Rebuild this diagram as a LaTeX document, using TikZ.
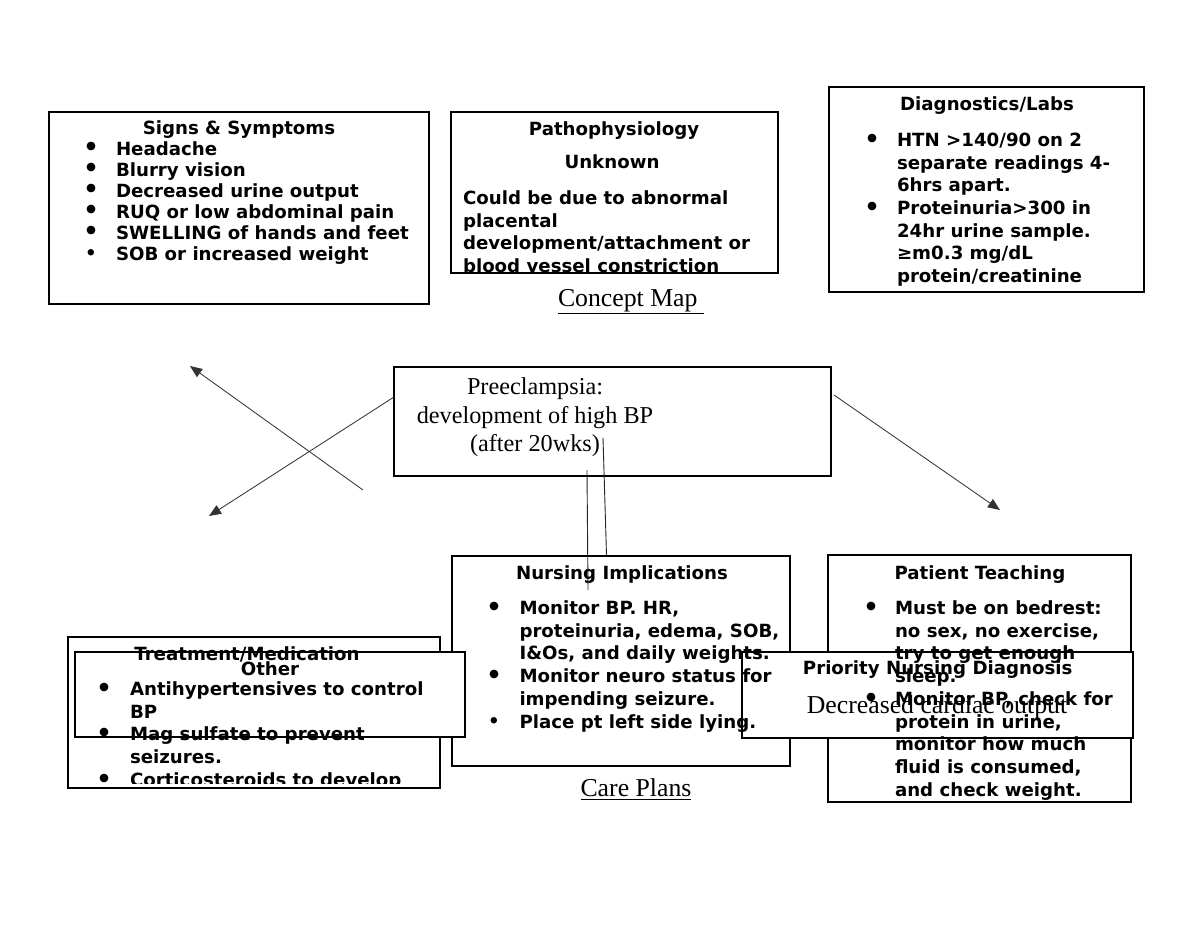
\documentclass[tikz,border=0pt]{standalone}
\usepackage{fontspec}
\setmainfont{Liberation Serif}
\setsansfont{DejaVu Sans}
\usetikzlibrary{arrows.meta,fit}
\tikzstyle{box}=[draw=black,line width=1.3pt]
\tikzstyle{cover}=[fill=white]
\tikzstyle{link}=[draw=black!85,line width=0.6pt]
\tikzstyle{arrow}=[-{Triangle[length=8pt,width=6.5pt]},draw=black!80,line width=0.55pt]
\def\labfont{\sffamily\bfseries\fontsize{12}{14}\selectfont}

\begin{document}
\begin{tikzpicture}[x=0.66pt,y=-0.66pt]
    \tikzstyle{every node}=[inner sep=0pt,outer sep=0pt]
    \tikzstyle{head}=[anchor=base,font=\labfont]
    \tikzstyle{item}=[anchor=base west,font=\labfont]
    \tikzstyle{dot}=[anchor=center,yshift=3.8pt,font=\sffamily\bfseries\fontsize{16}{16}\selectfont]
    \tikzstyle{small dot}=[anchor=center,yshift=3.8pt,font=\labfont]
    \tikzstyle{serif}=[anchor=base,font=\rmfamily\fontsize{16}{19}\selectfont]
    \tikzstyle{big serif}=[anchor=base,font=\rmfamily\fontsize{17}{20}\selectfont]

    % page
    \fill[white] (0,0) rectangle (1200,927);
    \useasboundingbox (0,0) rectangle (1200,927);

    % Draw the boxes
    \node[box,fit={(49,112) (429,304)}] (signs) {};
    \node[box,fit={(451,112) (778,273)}] (phys) {};
    \node[box,fit={(829,87) (1144,292)}] (diag) {};
    \node[box,fit={(394,367) (831,476)}] (pre) {};
    \node[box,fit={(452,556) (790,766)}] (nurse) {};
    \node[box,fit={(828,555) (1131,802)}] (teach) {};
    \node[box,fit={(68,637) (440,788)}] (treat) {};

    % white inside of the boxes on top
    \node[cover,fit={(75,652) (465,737)}] (other) {};
    \node[cover,fit={(742,652) (1133,738)}] (prio) {};

    % Signs & Symptoms
    \node[head] (signsT) at (239,134) {Signs \& Symptoms};
    \foreach \txt [count=\i] in {Headache, Blurry vision, Decreased urine output,
        RUQ or low abdominal pain, SWELLING of hands and feet, SOB or increased weight}
        \node[item] (signsL-\i) at (116,134+21*\i) {\txt};
    \foreach \i in {1,...,5}
        \node[dot] (signsB-\i) at (91,134+21*\i) {•};
    \node[small dot] (signsB-6) at (91,260) {•};

    % Pathophysiology (text cut at the bottom)
    \node[head] (physT) at (614,135) {Pathophysiology};
    \node[head] (physU) at (612,168) {Unknown};
    \begin{scope}
        \clip (451,112) rectangle (778,271);
        \foreach \txt [count=\i] in {Could be due to abnormal, placental,
            development/attachment or, blood vessel constriction}
            \node[item] (physL-\i) at (463,204.5+22.7*\i-22.7) {\txt};
    \end{scope}

    % Diagnostics/Labs
    \node[head] (diagT) at (987,110) {Diagnostics/Labs};
    \foreach \txt [count=\i] in {HTN >140/90 on 2, separate readings 4-, 6hrs apart.,
        Proteinuria>300 in, 24hr urine sample., ≥m0.3 mg/dL, protein/creatinine}
        \node[item] (diagL-\i) at (897,146.7+22.6*\i-22.6) {\txt};
    \foreach \i in {1,4}
        \node[dot] (diagB-\i) at (872,146.7+22.6*\i-22.6) {•};

    \node[big serif] (concept) at (631,306) {\underline{Concept Map\ }};

    % Preeclampsia
    \foreach \txt [count=\i] in {Preeclampsia:, development of high BP, {(after 20wks)}}
        \node[serif] (pre-\i) at (535,394.3+28.7*\i-28.7) {\txt};

    % Nursing Implications
    \node[head] (nurseT) at (622,579.3) {Nursing Implications};
    \foreach \txt [count=\i] in {{Monitor BP. HR,}, {proteinuria, edema, SOB,},
        {I\&Os, and daily weights.}, Monitor neuro status for, impending seizure.,
        Place pt left side lying.}
        \node[item] (nurseL-\i) at (519.5,614.3+22.8*\i-22.8) {\txt};
    \foreach \i in {1,4}
        \node[dot] (nurseB-\i) at (494,614.3+22.8*\i-22.8) {•};
    \node[small dot] (nurseB-6) at (494,728.3) {•};

    \node[big serif] (care) at (636,796.7) {\underline{Care Plans}};

    % Patient Teaching
    \node[head] (teachT) at (980,579.7) {Patient Teaching};
    \foreach \txt [count=\i] in {Must be on bedrest:, {no sex, no exercise,},
        try to get enough, sleep., {Monitor BP, check for}, {protein in urine,},
        monitor how much, {fluid is consumed,}, and check weight.}
        \node[item] (teachL-\i) at (895,614.3+22.75*\i-22.75) {\txt};
    \foreach \i in {1,5}
        \node[dot] (teachB-\i) at (871,614.3+22.75*\i-22.75) {•};

    % Treatment/Medication (text cut at the bottom)
    \begin{scope}
        \clip (68,637) rectangle (440,783);
        \node[head] (treatT) at (247,660.3) {Treatment/Medication};
        \foreach \txt [count=\i] in {Antihypertensives to control, BP,
            Mag sulfate to prevent, seizures., Corticosteroids to develop}
            \node[item] (treatL-\i) at (130,695.3+22.75*\i-22.75) {\txt};
        \foreach \i in {1,3,5}
            \node[dot] (treatB-\i) at (104,695.3+22.75*\i-22.75) {•};
    \end{scope}

    % Other
    \node[head] (otherT) at (270,675.5) {Other};
    \draw[box] (other.north west) rectangle (other.south east);

    % Priority Nursing Diagnosis
    \node[head] (prioT) at (937.7,674.3) {Priority Nursing Diagnosis};
    \node[big serif] (prioL) at (937,713.7) {Decreased cardiac output};
    \draw[box] (prio.north west) rectangle (prio.south east);

    % arrows around the center box
    \coordinate (preW) at (394,397);
    \coordinate (preE) at (834,395);
    \coordinate (tipSW) at (209,516);
    \coordinate (tipNW) at (190,366);
    \coordinate (tailX) at (363,490);
    \coordinate (tipSE) at (1000,510);
    \draw[arrow] (preW) -- (tipSW);
    \draw[arrow] (tailX) -- (tipNW);
    \draw[arrow] (preE) -- (tipSE);

    % two lines down to the Nursing Implications
    \coordinate (lineA) at (587,470);
    \coordinate (lineAb) at (588,590);
    \coordinate (lineB) at (603,437.7);
    \coordinate (lineBb) at (606.5,555);
    \draw[link] (lineA) -- (lineAb);
    \draw[link] (lineB) -- (lineBb);

\end{tikzpicture}
\end{document}
